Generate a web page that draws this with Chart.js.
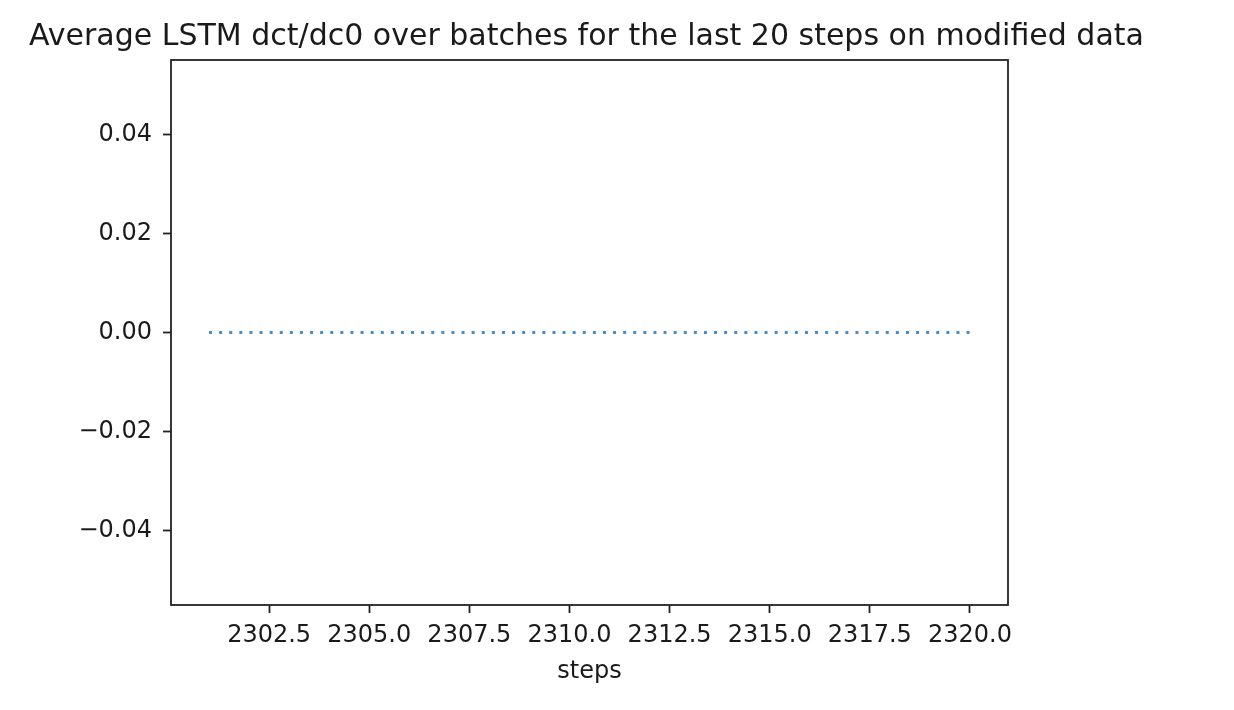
<!DOCTYPE html>
<html>
<head>
<meta charset="utf-8">
<style>
  html, body { margin: 0; padding: 0; background: #fff; }
  #wrap { width: 1234px; height: 710px; }
</style>
<script src="https://cdn.jsdelivr.net/npm/chart.js@4/dist/chart.umd.min.js"></script>
</head>
<body>
<div id="wrap"><canvas id="chart" width="1234" height="710"></canvas></div>
<script>
const chartTitle = 'Average LSTM dct/dc0 over batches for the last 20 steps on modified data';
const xLabel = 'steps';

// last 20 steps, average dct/dc0 is flat at zero
const steps = [2301, 2302, 2303, 2304, 2305, 2306, 2307, 2308, 2309, 2310,
               2311, 2312, 2313, 2314, 2315, 2316, 2317, 2318, 2319, 2320];
const dctValues = [0, 0, 0, 0, 0, 0, 0, 0, 0, 0,
                   0, 0, 0, 0, 0, 0, 0, 0, 0, 0];

const xTicks = [2302.5, 2305.0, 2307.5, 2310.0, 2312.5, 2315.0, 2317.5, 2320.0];
const yTicks = [-0.04, -0.02, 0.00, 0.02, 0.04];

const FONT = 'DejaVu Sans';

// frame around the plot area + title centred over the axes, like matplotlib
const framePlugin = {
  id: 'frame',
  afterDraw(chart) {
    const { ctx, chartArea: a } = chart;
    ctx.save();
    ctx.strokeStyle = '#222';
    ctx.lineWidth = 1.8;
    ctx.strokeRect(a.left, a.top, a.right - a.left, a.bottom - a.top);
    ctx.fillStyle = '#1a1a1a';
    ctx.font = '30px "' + FONT + '"';
    ctx.textAlign = 'center';
    ctx.textBaseline = 'middle';
    ctx.fillText(chartTitle, (a.left + a.right) / 2 - 3, 37);
    ctx.restore();
  }
};

const fmtMinus = v => {
  const s = Math.abs(v).toFixed(2);
  return v < -1e-9 ? '\u2212' + s : s;
};

new Chart(document.getElementById('chart'), {
  type: 'line',
  data: {
    datasets: [{
      data: steps.map((s, i) => ({ x: s, y: dctValues[i] })),
      borderColor: '#4a8cc4',
      borderWidth: 3,
      borderDash: [3, 7.1],
      borderCapStyle: 'butt',
      pointRadius: 0,
      fill: false,
      tension: 0
    }]
  },
  options: {
    responsive: false,
    animation: false,
    layout: { padding: { top: 60, right: 226, left: 0, bottom: 15.4 } },
    plugins: {
      legend: { display: false },
      tooltip: { enabled: false },
      title: { display: false }
    },
    scales: {
      x: {
        type: 'linear',
        min: 2300.05,
        max: 2320.95,
        afterBuildTicks: s => { s.ticks = xTicks.map(v => ({ value: v })); },
        ticks: {
          color: '#1a1a1a',
          font: { family: FONT, size: 24 },
          padding: 8,
          maxRotation: 0,
          autoSkip: false,
          callback: v => Number(v).toFixed(1)
        },
        grid: {
          drawOnChartArea: false,
          drawTicks: true,
          tickLength: 8,
          tickWidth: 1.8,
          tickColor: '#222'
        },
        border: { display: false },
        title: {
          display: true,
          text: xLabel,
          color: '#1a1a1a',
          font: { family: FONT, size: 24 },
          padding: { top: 0, bottom: 8 }
        }
      },
      y: {
        type: 'linear',
        min: -0.055,
        max: 0.055,
        afterBuildTicks: s => { s.ticks = yTicks.map(v => ({ value: v })); },
        afterFit: s => { s.width = 171; },
        ticks: {
          color: '#1a1a1a',
          font: { family: FONT, size: 24 },
          padding: 11,
          autoSkip: false,
          callback: v => fmtMinus(v)
        },
        grid: {
          drawOnChartArea: false,
          drawTicks: true,
          tickLength: 8,
          tickWidth: 1.8,
          tickColor: '#222'
        },
        border: { display: false }
      }
    }
  },
  plugins: [framePlugin]
});
</script>
</body>
</html>
